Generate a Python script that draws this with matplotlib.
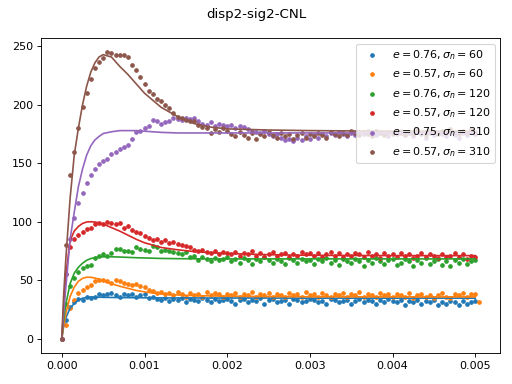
import numpy as np
import matplotlib
matplotlib.use("Agg")
import matplotlib.pyplot as plt

# sample times of the measured points
t = np.linspace(0, 0.005, 101)

labels = [r'$e=0.76, \sigma_n=60$', r'$e=0.57, \sigma_n=60$',
          r'$e=0.76, \sigma_n=120$', r'$e=0.57, \sigma_n=120$',
          r'$e=0.75, \sigma_n=310$', r'$e=0.57, \sigma_n=310$']

# measured points
blue_y = [0, 16, 27, 31, 34, 33, 36, 35, 36, 38, 37,
          38, 39, 37, 36, 38, 37, 38, 36, 37, 38,
          35, 36, 34, 33, 35, 32, 34, 33, 35, 31,
          34, 33, 32, 35, 33, 31, 34, 32, 33, 34,
          32, 30, 33, 34, 31, 33, 32, 35, 30, 33,
          34, 31, 32, 33, 30, 34, 33, 31, 32, 34,
          33, 31, 32, 30, 34, 33, 31, 32, 33, 30,
          32, 34, 31, 33, 32, 30, 33, 31, 34, 32,
          31, 33, 29, 32, 31, 33, 30, 32, 31, 33,
          29, 31, 30, 32, 31, 29, 32, 30, 31, 32]
orange_y = [0, 12, 26, 33, 39, 42, 44, 46, 49, 50, 50,
            49, 48, 50, 49, 48, 47, 46, 47, 45, 44,
            42, 41, 39, 40, 38, 39, 37, 40, 38, 36,
            39, 37, 38, 36, 40, 37, 39, 38, 36, 38,
            37, 39, 36, 38, 37, 40, 36, 38, 37, 39,
            36, 38, 37, 36, 39, 37, 38, 36, 40, 37,
            38, 36, 39, 37, 36, 38, 37, 39, 36, 38,
            37, 40, 36, 38, 37, 36, 39, 37, 38, 36,
            38, 37, 36, 39, 35, 37, 38, 36, 37, 35,
            37, 39, 36, 35, 38, 37, 39, 36, 38, 38]
orange_extra_t = [0.00505]
orange_extra_y = [31]
green_y = [0, 30, 45, 52, 57, 60, 62, 63, 69, 71, 72,
           71, 73, 77, 77, 75, 75, 74, 78, 77, 76,
           75, 79, 78, 75, 76, 75, 74, 73, 72, 74,
           70, 71, 67, 70, 68, 66, 69, 67, 68, 70,
           66, 68, 65, 69, 67, 64, 68, 66, 70, 67,
           65, 68, 66, 64, 69, 67, 65, 68, 66, 67,
           64, 68, 66, 69, 65, 67, 63, 68, 66, 65,
           68, 66, 62, 67, 65, 69, 66, 64, 67, 68,
           63, 65, 68, 66, 62, 67, 65, 69, 64, 66,
           68, 63, 66, 62, 67, 65, 68, 64, 66, 67]
red_y = [0, 55, 78, 85, 89, 91, 94, 95, 98, 99, 98,
         100, 99, 98, 99, 95, 96, 93, 91, 90, 88,
         86, 84, 85, 83, 84, 82, 83, 81, 80, 79,
         78, 76, 75, 76, 74, 73, 75, 72, 74, 73,
         72, 74, 71, 73, 72, 75, 71, 73, 70, 72,
         74, 71, 72, 73, 70, 72, 71, 74, 72, 73,
         71, 73, 70, 72, 74, 71, 73, 70, 72, 71,
         73, 72, 70, 74, 71, 72, 69, 73, 71, 72,
         70, 73, 71, 72, 69, 71, 73, 70, 72, 71,
         69, 72, 70, 71, 73, 70, 72, 68, 71, 70]
purple_y = [0, 55, 85, 103, 116, 125, 133, 140, 145, 149, 152,
            154, 158, 160, 162, 164, 166, 171, 177, 178, 180,
            182, 187, 186, 184, 185, 186, 189, 188, 187, 189,
            188, 189, 186, 184, 183, 185, 182, 184, 183, 182,
            183, 180, 182, 181, 179, 178, 177, 176, 178, 175,
            173, 175, 172, 170, 171, 169, 172, 170, 173, 171,
            174, 172, 175, 173, 176, 174, 177, 175, 173, 176,
            174, 177, 175, 178, 176, 174, 177, 175, 173, 176,
            175, 178, 174, 176, 173, 177, 175, 172, 176, 174,
            177, 175, 173, 176, 174, 172, 176, 174, 177, 175]
brown_y = [0, 80, 140, 160, 180, 198, 210, 222, 232, 237, 240,
           245, 244, 243, 243, 243, 241, 234, 230, 224, 218,
           212, 209, 205, 203, 200, 197, 193, 190, 189, 187,
           186, 186, 183, 181, 180, 176, 179, 177, 180, 178,
           175, 173, 177, 174, 172, 176, 171, 175, 173, 177,
           174, 172, 176, 173, 175, 171, 174, 176, 172, 175,
           173, 176, 174, 172, 177, 175, 173, 176, 174, 178,
           176, 174, 177, 175, 173, 178, 176, 174, 177, 175,
           178, 176, 174, 177, 175, 179, 176, 174, 178, 177,
           175, 178, 176, 179, 177, 175, 178, 176, 179, 177]

# fitted curves
fit_t = [0, 0.00002, 0.00005, 0.0001, 0.00015, 0.0002, 0.00025, 0.0003,
         0.00035, 0.0004, 0.00045, 0.0005, 0.0006, 0.0007, 0.0008, 0.0009,
         0.001, 0.0011, 0.0012, 0.0014, 0.0016, 0.0018, 0.002, 0.0025,
         0.003, 0.004, 0.005]
blue_fit = [0, 10, 18, 26, 30, 33, 34.5, 35.2, 35.5, 35.5, 35.4, 35.3, 35.2,
            35.1, 35, 35, 34.9, 34.9, 34.8, 34.8, 34.8, 34.7, 34.7, 34.7,
            34.6, 34.6, 34.6]
orange_fit = [0, 10, 22, 36, 44, 49, 51.5, 52.5, 52.5, 51.8, 50.8, 49.5, 47,
              44.8, 43, 41.2, 40, 39, 38.3, 37.3, 36.8, 36.5, 36.3, 36, 35.8,
              35.7, 35.7]
green_fit = [0, 15, 30, 47, 56, 61, 64.5, 67, 68.5, 69.3, 69.7, 70, 70, 69.8,
             69.5, 69.2, 69, 68.8, 68.6, 68.4, 68.3, 68.3, 68.2, 68.2, 68.2,
             68.2, 68.2]
red_fit = [0, 25, 55, 84, 92, 96, 98.5, 99.8, 100, 99.8, 99, 98, 95, 92, 88.5,
           85, 82, 80, 78, 76, 74.5, 73.5, 72.8, 71.8, 71.3, 71, 71]
purple_fit = [0, 20, 45, 85, 108, 130, 145, 157, 165, 170, 173, 175.5, 177,
              178, 178, 178, 177.5, 177, 176.5, 176, 176, 176, 176, 176, 176,
              176, 176]
brown_fit = [0, 35, 70, 120, 157, 180, 200, 216, 228, 236, 241, 243, 241, 233,
             226, 218, 210, 204, 198, 190, 184, 181, 179.5, 178.5, 178, 177.5,
             177.5]

series_y = [blue_y, orange_y, green_y, red_y, purple_y, brown_y]
fits = [blue_fit, orange_fit, green_fit, red_fit, purple_fit, brown_fit]

fig, ax = plt.subplots(figsize=(6.4, 4.8), dpi=80)
for i, (ys, fit, lab) in enumerate(zip(series_y, fits, labels)):
    xs = list(t)
    ys = list(ys)
    if i == 1:
        xs += orange_extra_t
        ys += orange_extra_y
    ax.scatter(xs, ys, s=10, color=f'C{i}', label=lab)
    ax.plot(fit_t, fit, color=f'C{i}')

ax.legend(loc='upper right')
fig.suptitle('disp2-sig2-CNL')
fig.subplots_adjust(left=0.080, right=0.977, bottom=0.081, top=0.901)
fig.savefig('out.png')
